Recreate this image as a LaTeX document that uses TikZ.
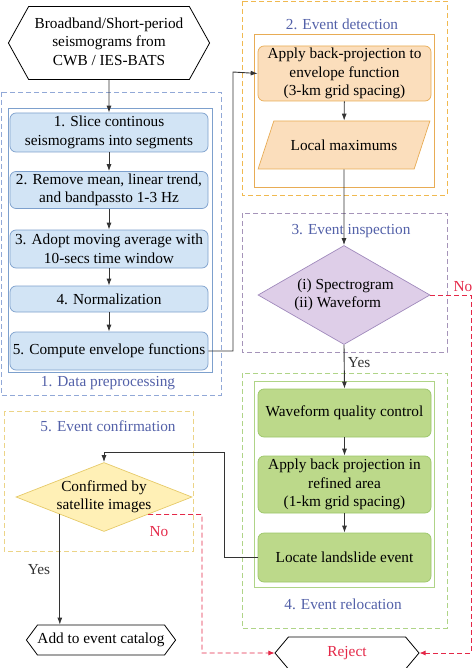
\documentclass[tikz,border=0pt]{standalone}
\usepackage{fontspec}
\setmainfont{Liberation Serif}
\usepackage{tikz}
\usetikzlibrary{
  arrows.meta,
  calc,
  positioning,
  shapes,
  shapes.geometric,
  shapes.symbols,
}
\definecolor{stageblue}{RGB}{82, 96, 168}
\definecolor{dashblue}{RGB}{145, 168, 215}
\definecolor{fillblue}{RGB}{210, 228, 245}
\definecolor{lineblue}{RGB}{125, 160, 205}
\definecolor{dashorange}{RGB}{240, 185, 80}
\definecolor{fillorange}{RGB}{251, 222, 188}
\definecolor{lineorange}{RGB}{232, 172, 85}
\definecolor{dashpurple}{RGB}{165, 148, 185}
\definecolor{fillpurple}{RGB}{222, 206, 232}
\definecolor{linepurple}{RGB}{160, 138, 188}
\definecolor{dashgreen}{RGB}{175, 212, 135}
\definecolor{fillgreen}{RGB}{188, 217, 138}
\definecolor{linegreen}{RGB}{155, 198, 105}
\definecolor{dashyellow}{RGB}{236, 212, 135}
\definecolor{fillyellow}{RGB}{255, 240, 182}
\definecolor{lineyellow}{RGB}{230, 202, 105}
\definecolor{rejectred}{RGB}{228, 40, 72}
\tikzstyle{arrow} = [
  -{Latex[length=7pt,width=5pt]},
  line width=0.9pt,
  black!80,
]
\tikzstyle{noarrow} = [
  -{Latex[length=6pt,width=5pt]},
  line width=0.8pt,
  rejectred,
  dash pattern=on 5pt off 3pt,
]
\tikzstyle{stagebox} = [line width=0.8pt, dash pattern=on 5pt off 3pt]
\tikzstyle{stagelabel} = [text=stageblue]
\tikzstyle{procbox} = [draw, rectangle, rounded corners=6pt, line width=0.7pt, align=center, inner sep=1pt]
\tikzstyle{endbox} = [draw, signal, signal to=west and east, line width=0.8pt, inner sep=0pt, fill=white]
\tikzstyle{choice} = [draw, diamond, line width=0.7pt, inner sep=0pt]

\begin{document}
\begin{tikzpicture}[x=1pt, y=-1pt, font=\fontsize{15.3}{18.5}\selectfont]
      \useasboundingbox (0,0) rectangle (474,668);

      \draw[stagebox, dashblue]   (1,92) rectangle (221,395);
      \draw[line width=0.7pt, lineblue] (8,108) rectangle (212,372);
      \draw[stagebox, dashorange] (242,1) rectangle (447,195);
      \draw[line width=0.8pt, lineorange] (254,34) rectangle (434,187);
      \draw[stagebox, dashpurple] (242,213) rectangle (447,352);
      \draw[stagebox, dashgreen]  (242,373) rectangle (447,628);
      \draw[line width=0.8pt, dashgreen] (254,381) rectangle (434,587);
      \draw[stagebox, dashyellow] (4,411) rectangle (193,551);

      \node[stagelabel] (l1) at (108,383) {1. Data preprocessing};
      \node[stagelabel] (l2) at (342,24)  {2. Event detection};
      \node[stagelabel] (l3) at (351,231) {3. Event inspection};
      \node[stagelabel] (l4) at (343,604) {4. Event relocation};
      \node[stagelabel] (l5) at (108,426) {5. Event confirmation};

      \node[endbox, signal pointer angle=122, minimum width=198, minimum height=73] (src) at (109,43)
        {\begin{tabular}{c}Broadband/Short-period\\seismograms from\\CWB / IES-BATS\end{tabular}};

      \node[procbox, draw=lineblue, fill=fillblue, minimum width=198, minimum height=39] (p1) at (109,132.5) {1. Slice continous\\seismograms into segments};
      \node[procbox, draw=lineblue, fill=fillblue, minimum width=198, minimum height=37] (p2) at (109,190)   {2. Remove mean, linear trend,\\and bandpassto 1-3 Hz};
      \node[procbox, draw=lineblue, fill=fillblue, minimum width=198, minimum height=38] (p3) at (109,249)   {3. Adopt moving average with\\10-secs time window};
      \node[procbox, draw=lineblue, fill=fillblue, minimum width=198, minimum height=26] (p4) at (109,299)   {4. Normalization};
      \node[procbox, draw=lineblue, fill=fillblue, minimum width=198, minimum height=38] (p5) at (109,351)   {5. Compute envelope functions};

      \node[procbox, draw=lineorange, fill=fillorange, minimum width=173, minimum height=55] (d1) at (344.5,73.5)
        {Apply back-projection to\\envelope function\\(3-km grid spacing)};
      \node[draw=lineorange, fill=fillorange, line width=0.7pt, trapezium, trapezium left angle=54, trapezium right angle=126,
        trapezium stretches=true, minimum width=172, minimum height=48] (d2) at (344,145) {Local maximums};

      \node[choice, draw=linepurple, fill=fillpurple, minimum width=172, minimum height=99,
        label={[align=left]center:\hspace*{3pt}(i) Spectrogram\\(ii) Waveform}] (insp) at (344,295) {};

      \node[procbox, draw=linegreen, fill=fillgreen, minimum width=173, minimum height=48] (r1) at (344.5,413)   {Waveform quality control};
      \node[procbox, draw=linegreen, fill=fillgreen, minimum width=173, minimum height=57] (r2) at (344.5,484.5) {Apply back projection in\\refined area\\(1-km grid spacing)};
      \node[procbox, draw=linegreen, fill=fillgreen, minimum width=173, minimum height=49] (r3) at (344.5,557.5) {Locate landslide event};

      \node[choice, draw=lineyellow, fill=fillyellow, minimum width=176, minimum height=69,
        label={[align=center]center:Confirmed by\\satellite images}] (conf) at (104,497) {};

      \node[endbox, signal pointer angle=107, minimum width=144, minimum height=30] (cat) at (101,640) {Add to event catalog};
      \node[endbox, signal pointer angle=100, minimum width=144, minimum height=32, text=rejectred] (rej) at (347,653) {Reject};

      \coordinate (k1) at (233,72);
      \coordinate (k2) at (224,452);
      \coordinate (k3) at (471,295);
      \coordinate (k4) at (202,514.5);

      \draw[arrow] (src) -- (p1);
      \draw[arrow] (p1) -- (p2);
      \draw[arrow] (p2) -- (p3);
      \draw[arrow] (p3) -- (p4);
      \draw[arrow] (p4) -- (p5);
      \draw[arrow] (p5.east) -| (k1) -- (d1.west);
      \draw[arrow] (d1) -- (d2);
      \draw[arrow] (d2.south) -- (insp.north);
      \draw[arrow] (insp.south) -- node[right, pos=0.4] {Yes} (r1.north);
      \draw[arrow] (r1) -- (r2);
      \draw[arrow] (r2) -- (r3);
      \draw[arrow] (r3.west) -| (k2) -| (conf.north);
      \draw[arrow] (conf.south west) -- node[left=6pt, pos=0.5] {Yes} (conf.south west |- cat.north);
      \draw[noarrow] (insp.east) -- node[above, pos=0.8, text=rejectred] {No} (k3) |- (rej.east);
      \draw[noarrow] (conf.south east) -- (k4) |- (rej.west);
      \node[text=rejectred] (no2) at (159,532) {No};

    \end{tikzpicture}
\end{document}
